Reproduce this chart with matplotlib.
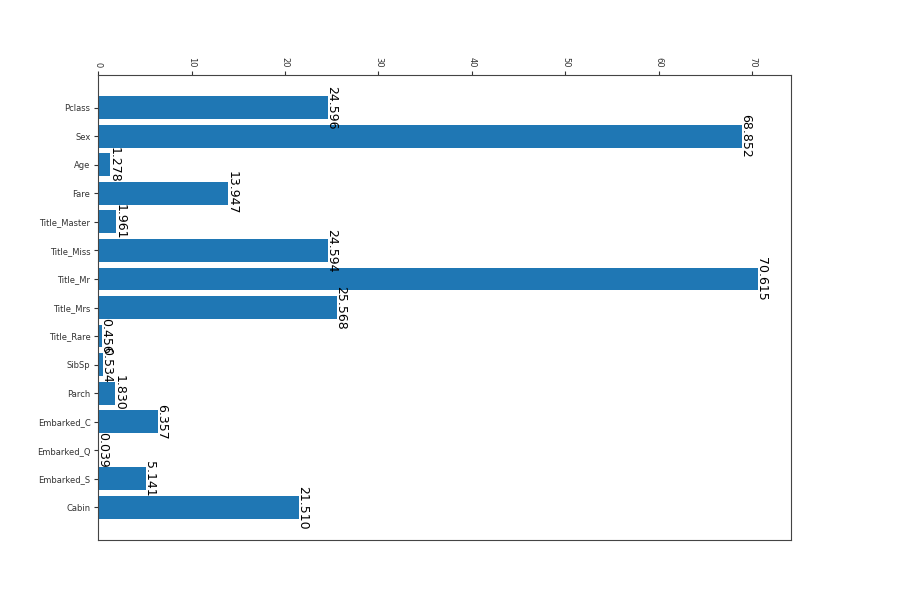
import matplotlib
matplotlib.use("Agg")
from matplotlib import pyplot as plt

features = ["Pclass", "Sex", "Age", "Fare", "Title_Master", "Title_Miss", "Title_Mr",
            "Title_Mrs", "Title_Rare", "SibSp", "Parch", "Embarked_C", "Embarked_Q",
            "Embarked_S", "Cabin"]
scores = [24.596, 68.852, 1.278, 13.947, 1.961, 24.594, 70.615,
          25.568, 0.456, 0.534, 1.830, 6.357, 0.039, 5.141, 21.510]

fig = plt.figure(figsize=(9, 6), dpi=100)
ax = fig.add_axes([0.109, 0.1, 0.77, 0.775])
pos = list(range(len(features)))
ax.barh(pos, scores, color="#1f77b4")
ax.set_yticks(pos)
ax.set_yticklabels(features)
ax.invert_yaxis()
ax.xaxis.tick_top()
ax.tick_params(axis="x", labelsize=6, labelrotation=-90, colors="#333333", length=3, pad=2.5)
ax.tick_params(axis="y", labelsize=6, colors="#333333", length=3, pad=2.5)
for s in ax.spines.values():
    s.set_color("#444444")

# score labels, turned like the tick labels
for p, v in zip(pos, scores):
    ax.annotate("%.3f" % v, (v, p), xytext=(-2, 0), textcoords="offset points",
                rotation=-90, ha="left", va="center", fontsize=9)

fig.savefig("out.png", dpi=100)
